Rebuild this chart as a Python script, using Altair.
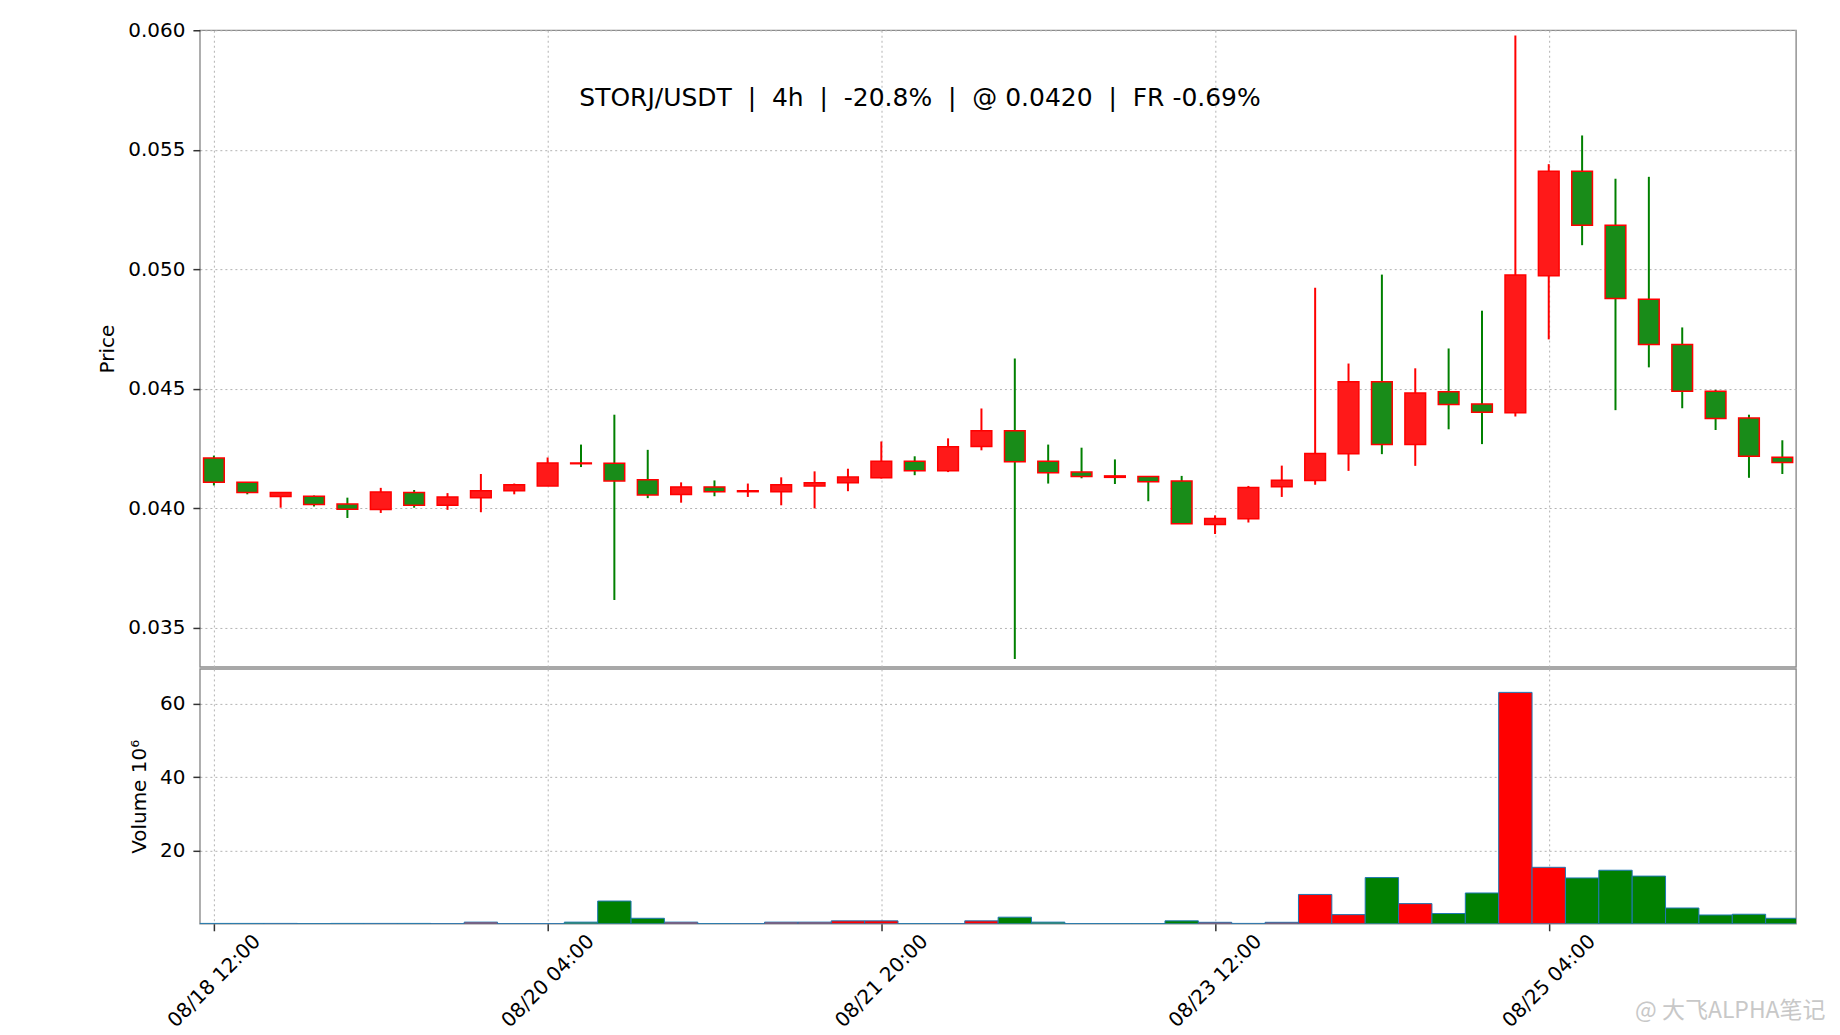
import json
import altair as alt
import pandas as pd

# ---------------- data ----------------
opens = [0.04211, 0.04109, 0.04050, 0.04051, 0.04018, 0.03995, 0.04067, 0.04013, 0.04045, 0.04074,
         0.04094, 0.04190, 0.04189, 0.04120, 0.04058, 0.04090, 0.04070, 0.04070, 0.04094, 0.04107,
         0.04128, 0.04197, 0.04158, 0.04259, 0.04325, 0.04197, 0.04152, 0.04136, 0.04134, 0.04115,
         0.03933, 0.03957, 0.04091, 0.04117, 0.04229, 0.04530, 0.04267, 0.04488, 0.04437, 0.04400,
         0.04973, 0.05410, 0.05184, 0.04875, 0.04686, 0.04490, 0.04378, 0.04214]
closes = [0.04109, 0.04067, 0.04067, 0.04016, 0.03997, 0.04069, 0.04013, 0.04048, 0.04074, 0.04099,
          0.04190, 0.04187, 0.04115, 0.04056, 0.04090, 0.04070, 0.04074, 0.04099, 0.04107, 0.04131,
          0.04197, 0.04158, 0.04258, 0.04325, 0.04195, 0.04149, 0.04133, 0.04130, 0.04112, 0.03936,
          0.03958, 0.04088, 0.04118, 0.04230, 0.04530, 0.04267, 0.04483, 0.04435, 0.04402, 0.04976,
          0.05410, 0.05184, 0.04878, 0.04686, 0.04490, 0.04376, 0.04218, 0.04192]
highs = [0.04221, 0.04109, 0.04067, 0.04054, 0.04045, 0.04086, 0.04077, 0.04064, 0.04144, 0.04104,
         0.04213, 0.04267, 0.04392, 0.04245, 0.04109, 0.04117, 0.04104, 0.04130, 0.04155, 0.04166,
         0.04280, 0.04218, 0.04293, 0.04418, 0.04627, 0.04267, 0.04254, 0.04205, 0.04134, 0.04136,
         0.03971, 0.04094, 0.04179, 0.04923, 0.04606, 0.04978, 0.04586, 0.04669, 0.04827, 0.05978,
         0.05440, 0.05560, 0.05379, 0.05387, 0.04757, 0.04496, 0.04392, 0.04285]
lows = [0.04096, 0.04059, 0.04003, 0.04008, 0.03960, 0.03981, 0.04003, 0.03994, 0.03984, 0.04059,
        0.04094, 0.04173, 0.03617, 0.04043, 0.04024, 0.04051, 0.04048, 0.04013, 0.04000, 0.04072,
        0.04125, 0.04139, 0.04152, 0.04243, 0.03370, 0.04104, 0.04126, 0.04102, 0.04030, 0.03936,
        0.03893, 0.03941, 0.04048, 0.04099, 0.04157, 0.04227, 0.04178, 0.04331, 0.04269, 0.04384,
        0.04707, 0.05101, 0.04411, 0.04590, 0.04419, 0.04328, 0.04128, 0.04144]
volumes = [0.1, 0.1, 0.1, 0.05, 0.1, 0.1, 0.1, 0.05, 0.45, 0.05,
           0.05, 0.45, 6.2, 1.5, 0.45, 0.05, 0.05, 0.45, 0.45, 0.8,
           0.8, 0.05, 0.05, 0.8, 1.8, 0.45, 0.05, 0.05, 0.05, 0.8,
           0.4, 0.1, 0.4, 8.0, 2.5, 12.6, 5.5, 2.8, 8.4, 63.1,
           15.4, 12.5, 14.6, 13.0, 4.3, 2.4, 2.6, 1.5]

tick_index = [0, 10, 20, 30, 40]
tick_labels = ["08/18 12:00", "08/20 04:00", "08/21 20:00", "08/23 12:00", "08/25 04:00"]
price_ticks = [0.035, 0.040, 0.045, 0.050, 0.055, 0.060]
volume_ticks = [20, 40, 60]
SEP = "\u00a0\u00a0|\u00a0\u00a0"
title_parts = ["STORJ/USDT", "4h", "-20.8%", "@ 0.0420", "FR -0.69%"]
title_text = SEP.join(title_parts)
watermark = "@ 大飞ALPHA笔记"

df = pd.DataFrame({
    "i": list(range(len(opens))),
    "open": opens, "high": highs, "low": lows, "close": closes, "volume": volumes,
})
df["dir"] = ["up" if c >= o else "down" for o, c in zip(opens, closes)]

# ---------------- styling ----------------
FONT = "DejaVu Sans"
GRID = dict(grid=True, gridColor="#b3b3b3", gridDash=[2, 3], gridWidth=1)
xscale = alt.Scale(domain=[-0.42, 47.41], nice=False, zero=False)
label_expr = json.dumps(tick_labels) + "[round(datum.value / 10)]"

# ---------------- price panel ----------------
base = alt.Chart(df)
wicks = base.mark_rule(strokeWidth=2).encode(
    x=alt.X("i:Q", scale=xscale,
            axis=alt.Axis(values=tick_index, labels=False, ticks=False, domain=False,
                          title=None, **GRID)),
    y=alt.Y("low:Q", scale=alt.Scale(domain=[0.03337, 0.060], nice=False, zero=False),
            axis=alt.Axis(values=price_ticks, format=".3f", title="Price",
                          titleX=-86, titleBaseline="alphabetic", domain=False,
                          labelPadding=8, **GRID)),
    y2="high:Q",
    color=alt.Color("dir:N", scale=alt.Scale(domain=["up", "down"], range=["#ff0000", "#008000"]),
                    legend=None),
)
bodies = base.transform_calculate(
    x0="datum.i - 0.31", x1="datum.i + 0.31"
).mark_bar(stroke="#ff0000", strokeWidth=1.5).encode(
    x="x0:Q", x2="x1:Q",
    y="open:Q", y2="close:Q",
    fill=alt.Fill("dir:N", scale=alt.Scale(domain=["up", "down"], range=["#ff1919", "#198c19"]),
                  legend=None),
)
price = alt.layer(wicks, bodies).properties(
    width=1597, height=637,
    title=alt.TitleParams(text=title_text, anchor="middle", frame="group", font=FONT,
                          fontSize=25, fontWeight="normal", color="#000000",
                          offset=0, baseline="alphabetic", dx=-78, dy=111),
)

# ---------------- volume panel ----------------
vbars = alt.Chart(df).transform_calculate(
    x0="datum.i - 0.5", x1="datum.i + 0.5"
).mark_bar(stroke="#1f77b4", strokeWidth=1, clip=True).encode(
    x=alt.X("x0:Q", scale=xscale,
            axis=alt.Axis(values=tick_index, labelExpr=label_expr, labelAngle=315,
                          labelAlign="center", labelBaseline="middle", labelPadding=50,
                          tickSize=7, title=None, domain=False, labelFlush=False, **GRID)),
    x2="x1:Q",
    y=alt.Y("volume:Q", scale=alt.Scale(domain=[0, 69.5], nice=False),
            axis=alt.Axis(values=volume_ticks, title="Volume  10⁶", titleX=-54,
                          titleBaseline="alphabetic", domain=False, labelPadding=8, **GRID)),
    y2=alt.datum(0),
    fill=alt.Fill("dir:N", scale=alt.Scale(domain=["up", "down"], range=["#ff0000", "#008000"]),
                  legend=None),
)
wm = alt.Chart(pd.DataFrame({"t": [watermark]})).mark_text(
    align="left", baseline="middle", fontSize=23, color="#c8c8c8", font="Noto Sans CJK SC"
).encode(text="t:N", x=alt.value(1436), y=alt.value(342))
volume = alt.layer(vbars, wm).properties(width=1597, height=255)

chart = alt.vconcat(price, volume, spacing=0).resolve_scale(
    fill="independent", color="independent"
).properties(
    padding={"left": 89, "top": 11, "right": 5, "bottom": 0}
).configure_view(
    stroke="#8c8c8c", strokeWidth=1.4
).configure_axis(
    labelFont=FONT, labelFontSize=20, labelColor="#000000",
    titleFont=FONT, titleFontSize=20, titleFontWeight="normal", titleColor="#000000",
    tickColor="#333333", tickWidth=1.5, tickSize=7,
).configure_title(font=FONT)

chart.save("out.html", embed_options={"renderer": "svg", "actions": False})
